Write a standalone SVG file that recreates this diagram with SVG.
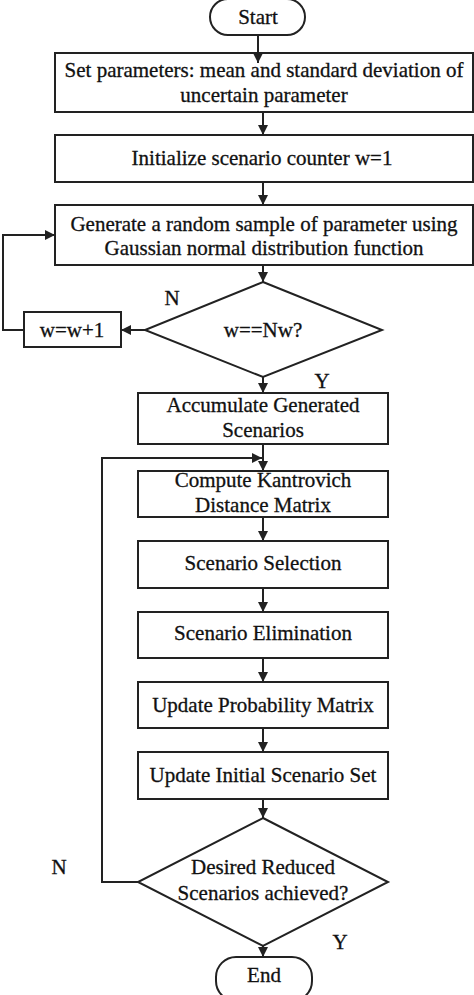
<svg xmlns="http://www.w3.org/2000/svg" width="474" height="995" viewBox="0 0 474 995">
<style>
.box{fill:#fff;stroke:#222;stroke-width:2}
.t{font-family:"Liberation Serif","Times New Roman",serif;font-size:21px;fill:#111;stroke:#111;stroke-width:0.3;text-anchor:middle}
.c{fill:none;stroke:#222;stroke-width:2}
</style>
<defs>
<marker id="ah" markerUnits="userSpaceOnUse" markerWidth="12" markerHeight="12" refX="10" refY="5" orient="auto">
<path d="M0,0 L10,5 L0,10 z" fill="#222"/>
</marker>
</defs>
<rect width="474" height="995" fill="#fff"/>
<g id="start">
<rect class="box" x="210" y="-1" width="95" height="36" rx="18"/>
<text class="t" x="258" y="24">Start</text>
</g>
<g id="set-params">
<rect class="box" x="55" y="53" width="418" height="59"/>
<text class="t" x="264" y="77">Set parameters: mean and standard deviation of</text>
<text class="t" x="264" y="102">uncertain parameter</text>
</g>
<g id="init-counter">
<rect class="box" x="55" y="135" width="418" height="47"/>
<text class="t" x="262" y="165">Initialize scenario counter w=1</text>
</g>
<g id="generate">
<rect class="box" x="55" y="205" width="418" height="60"/>
<text class="t" x="264" y="231">Generate a random sample of parameter using</text>
<text class="t" x="264" y="255">Gaussian normal distribution function</text>
</g>
<g id="check-w">
<polygon class="box" points="263,282 382,330 263,377 145,330"/>
<text class="t" x="263" y="337">w==Nw?</text>
</g>
<g id="increment">
<rect class="box" x="24" y="312" width="97" height="35"/>
<text class="t" x="72" y="337">w=w+1</text>
</g>
<g id="accumulate">
<rect class="box" x="138" y="393" width="250" height="51"/>
<text class="t" x="263" y="412">Accumulate Generated</text>
<text class="t" x="263" y="437">Scenarios</text>
</g>
<g id="kantorovich">
<rect class="box" x="138" y="471" width="250" height="46"/>
<text class="t" x="263" y="487">Compute Kantrovich</text>
<text class="t" x="263" y="512">Distance Matrix</text>
</g>
<g id="selection">
<rect class="box" x="138" y="541" width="250" height="47"/>
<text class="t" x="263" y="570">Scenario Selection</text>
</g>
<g id="elimination">
<rect class="box" x="138" y="612" width="250" height="46"/>
<text class="t" x="263" y="640">Scenario Elimination</text>
</g>
<g id="update-prob">
<rect class="box" x="138" y="682" width="250" height="46"/>
<text class="t" x="263" y="712">Update Probability Matrix</text>
</g>
<g id="update-set">
<rect class="box" x="138" y="752" width="250" height="47"/>
<text class="t" x="263" y="782">Update Initial Scenario Set</text>
</g>
<g id="check-reduced">
<polygon class="box" points="263,818 388,882 263,946 138,882"/>
<text class="t" x="263" y="874">Desired Reduced</text>
<text class="t" x="263" y="900">Scenarios achieved?</text>
</g>
<g id="end">
<rect class="box" x="216" y="957" width="96" height="44" rx="20"/>
<text class="t" x="264" y="982">End</text>
</g>
<g id="connectors">
<path class="c" d="M258,35 V63" marker-end="url(#ah)"/>
<path class="c" d="M263,112 V135" marker-end="url(#ah)"/>
<path class="c" d="M263,182 V205" marker-end="url(#ah)"/>
<path class="c" d="M263,265 V282" marker-end="url(#ah)"/>
<path class="c" d="M145,330 H121" marker-end="url(#ah)"/>
<path class="c" d="M24,330 H3 V235 H55" marker-end="url(#ah)"/>
<path class="c" d="M263,377 V393" marker-end="url(#ah)"/>
<path class="c" d="M263,444 V471" marker-end="url(#ah)"/>
<path class="c" d="M138,882 H102 V458 H262" marker-end="url(#ah)"/>
<path class="c" d="M263,517 V541" marker-end="url(#ah)"/>
<path class="c" d="M263,588 V612" marker-end="url(#ah)"/>
<path class="c" d="M263,658 V682" marker-end="url(#ah)"/>
<path class="c" d="M263,728 V752" marker-end="url(#ah)"/>
<path class="c" d="M263,799 V818" marker-end="url(#ah)"/>
<path class="c" d="M263,946 V957" marker-end="url(#ah)"/>
<text class="t" x="172" y="305">N</text>
<text class="t" x="322" y="388">Y</text>
<text class="t" x="59" y="874">N</text>
<text class="t" x="340" y="949">Y</text>
</g>
</svg>
